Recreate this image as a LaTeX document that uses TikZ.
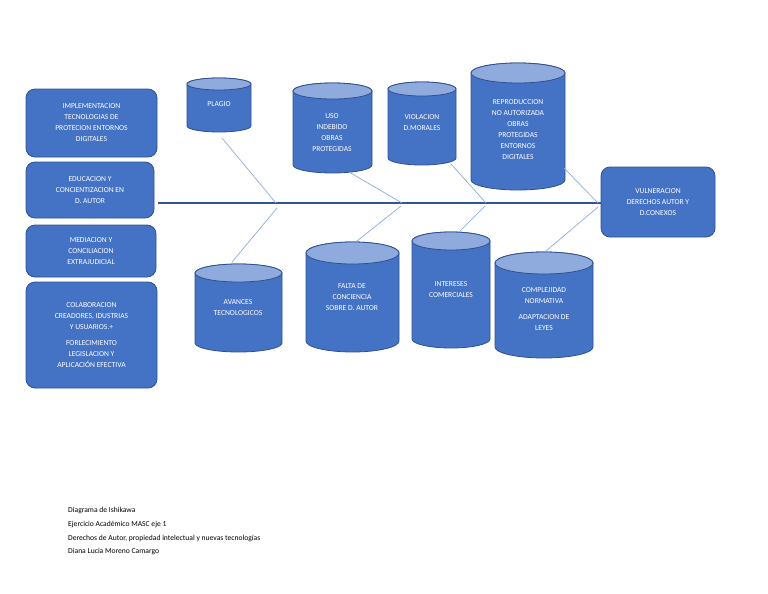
\documentclass[tikz,border=0pt]{standalone}
\usepackage{fontspec}
\setmainfont{Carlito}
\definecolor{fillb}{HTML}{4472C4}
\definecolor{topb}{HTML}{8FAADC}
\definecolor{edgeb}{HTML}{2F528F}
\definecolor{spine}{HTML}{2F5597}
\begin{document}
\begin{tikzpicture}[x=1pt,y=-1pt,
  lbl/.style={text=white,font=\fontsize{7.6}{11}\selectfont,align=center},
  rbox/.style={fill=fillb,draw=edgeb,line width=0.8pt,rounded corners=9pt},
  bone/.style={draw=topb,line width=0.7pt},
  foot/.style={font=\fontsize{7.6}{13.8}\selectfont,align=left,anchor=north west,inner sep=0pt}]
\useasboundingbox (0,0) rectangle (768,594);
\newcommand\mycyl[6]{% name x1 y1 x2 y2 ry
  \pgfmathsetmacro\cx{(#2+#4)/2}\pgfmathsetmacro\rx{(#4-#2)/2}
  \fill[fillb,draw=edgeb,line width=0.8pt] (#2,#3+#6) -- (#2,#5-#6) arc[start angle=180,end angle=360,x radius=\rx,y radius=-#6] -- (#4,#3+#6) arc[start angle=0,end angle=180,x radius=\rx,y radius=-#6];
  \fill[topb,draw=edgeb,line width=0.8pt] (\cx,#3+#6) ellipse[x radius=\rx,y radius=#6];
  \coordinate (#1-t) at (\cx,#3); \coordinate (#1-b) at (\cx,#5);}
\mycyl{pl}{187}{78}{251}{132}{6}
\mycyl{uso}{293}{83}{372}{173}{8}
\mycyl{vio}{388}{82}{456}{165}{7}
\mycyl{rep}{471}{63}{565}{190}{10}
\mycyl{ava}{195}{264}{282}{352}{9}
\mycyl{fal}{306}{242}{399}{352}{11}
\mycyl{int}{412}{232}{490}{348}{9}
\mycyl{com}{495}{252}{593}{358}{11}
\node[lbl] (tpl) at (219,104) {PLAGIO};
\node[lbl] (tuso) at (332,133) {USO\\INDEBIDO\\OBRAS\\PROTEGIDAS};
\node[lbl] (tvio) at (422,123) {VIOLACION\\D.MORALES};
\node[lbl] (trep) at (518,130) {REPRODUCCION\\NO AUTORIZADA\\OBRAS\\PROTEGIDAS\\ENTORNOS\\DIGITALES};
\node[lbl] (tava) at (238,308) {AVANCES\\TECNOLOGICOS};
\node[lbl] (tfal) at (352,297) {FALTA DE\\CONCIENCIA\\SOBRE D. AUTOR};
\node[lbl] (tint) at (451,290) {INTERESES\\COMERCIALES};
\node[lbl] (tcom) at (544,309) {COMPLEJIDAD\\NORMATIVA\\[5pt]ADAPTACION DE\\LEYES};
\draw[rbox] (26,89) rectangle (157,157); \node[lbl] (b1) at (91.5,123) {IMPLEMENTACION\\TECNOLOGIAS DE\\PROTECION ENTORNOS\\DIGITALES};
\draw[rbox] (26,162) rectangle (154,218); \node[lbl] (b2) at (90,190) {EDUCACION Y\\CONCIENTIZACION EN\\D. AUTOR};
\draw[rbox] (26,225) rectangle (156,277); \node[lbl] (b3) at (91,251) {MEDIACION Y\\CONCILIACION\\EXTRAJUDICIAL};
\draw[rbox] (26,282) rectangle (157,388); \node[lbl] (b4) at (91.5,335) {COLABORACION\\CREADORES, IDUSTRIAS\\Y USUARIOS.+\\[5pt]FORLECIMIENTO\\LEGISLACION Y\\APLICACIÓN EFECTIVA};
\draw[rbox] (601,167) rectangle (715,237); \node[lbl] (head) at (658,202) {VULNERACION\\DERECHOS AUTOR Y\\D.CONEXOS};
\coordinate (s0) at (158,203); \coordinate (s1) at (601,203);
\coordinate (j1) at (276,203); \coordinate (j2) at (402,203); \coordinate (j3) at (486,203); \coordinate (j4) at (598,203);
\draw[spine,line width=1.2pt] (s0) -- (j1);
\draw[spine,line width=2pt] (j1) -- (s1);
\coordinate (a1) at (222,138); \coordinate (a2) at (232,262);
\coordinate (a3) at (349,172); \coordinate (a4) at (357,241);
\coordinate (a5) at (451,164); \coordinate (a6) at (459,232);
\coordinate (a7) at (564,168); \coordinate (a8) at (546,251);
\draw[bone] (a1) -- (j1); \draw[bone] (a2) -- (277,208);
\draw[bone] (a3) -- (j2); \draw[bone] (a4) -- (401,206);
\draw[bone] (a5) -- (j3); \draw[bone] (a6) -- (485,206);
\draw[bone] (a7) -- (j4); \draw[bone] (a8) -- (598,207);
\node[foot] (ft) at (68,507) {Diagrama de Ishikawa\\Ejercicio Académico MASC eje 1\\Derechos de Autor, propiedad intelectual y nuevas tecnologías\\Diana Lucia Moreno Camargo};
\end{tikzpicture}
\end{document}
